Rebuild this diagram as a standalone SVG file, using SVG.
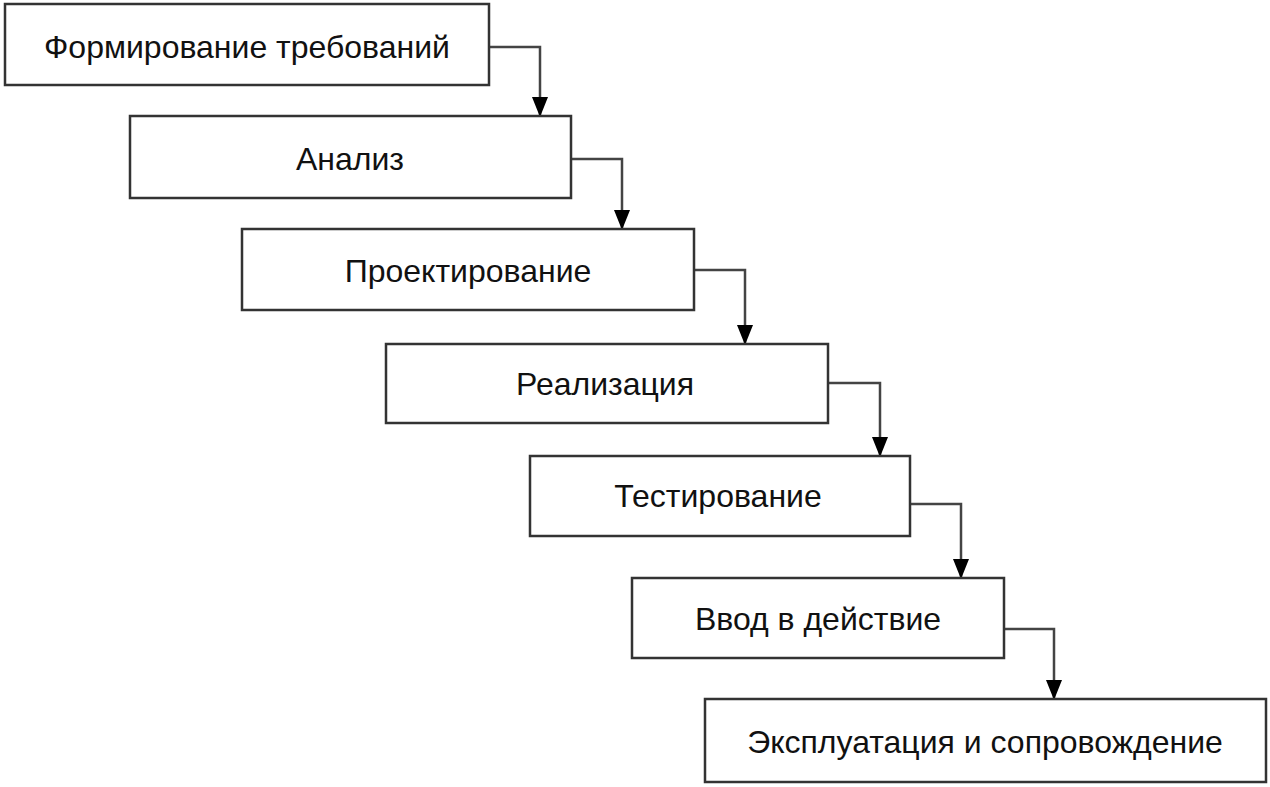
<svg xmlns="http://www.w3.org/2000/svg" width="1270" height="787" viewBox="0 0 1270 787">
<defs>
<style>
.b{fill:#fff;stroke:#333;stroke-width:2.5}
.t{font-family:"Liberation Sans",Arial,sans-serif;font-size:32px;fill:#111;text-anchor:middle;dominant-baseline:central}
.c{fill:none;stroke:#444;stroke-width:2.5}
</style>
<marker id="a" markerWidth="10" markerHeight="10" refX="9" refY="5" orient="auto" markerUnits="userSpaceOnUse" viewBox="0 0 10 10"><path d="M0,0L10,5L0,10z" fill="#000" transform="scale(1)"/></marker>
<marker id="ar" viewBox="0 0 20 20" markerWidth="20" markerHeight="20" refX="19" refY="10" orient="auto" markerUnits="userSpaceOnUse"><path d="M0,2L20,10L0,18z" fill="#000"/></marker>
</defs>
<rect width="1270" height="787" fill="#fff"/>
<g id="connectors">
<path class="c" d="M489,47H540V116" marker-end="url(#ar)"/>
<path class="c" d="M571,159H622V229" marker-end="url(#ar)"/>
<path class="c" d="M694,270H745V344" marker-end="url(#ar)"/>
<path class="c" d="M828,383H880V456" marker-end="url(#ar)"/>
<path class="c" d="M910,504H961V578" marker-end="url(#ar)"/>
<path class="c" d="M1004,629H1054V699" marker-end="url(#ar)"/>
</g>
<g id="n1"><rect class="b" x="5" y="4" width="484" height="81"/><text class="t" x="247" y="47">Формирование требований</text></g>
<g id="n2"><rect class="b" x="130" y="116" width="441" height="82"/><text class="t" x="350" y="159">Анализ</text></g>
<g id="n3"><rect class="b" x="242" y="229" width="452" height="81"/><text class="t" x="468" y="271">Проектирование</text></g>
<g id="n4"><rect class="b" x="386" y="344" width="442" height="79"/><text class="t" x="605" y="384">Реализация</text></g>
<g id="n5"><rect class="b" x="530" y="456" width="380" height="80"/><text class="t" x="718" y="496">Тестирование</text></g>
<g id="n6"><rect class="b" x="632" y="578" width="372" height="80"/><text class="t" x="818" y="619">Ввод в действие</text></g>
<g id="n7"><rect class="b" x="705" y="699" width="561" height="83"/><text class="t" x="985" y="742">Эксплуатация и сопровождение</text></g>
</svg>
